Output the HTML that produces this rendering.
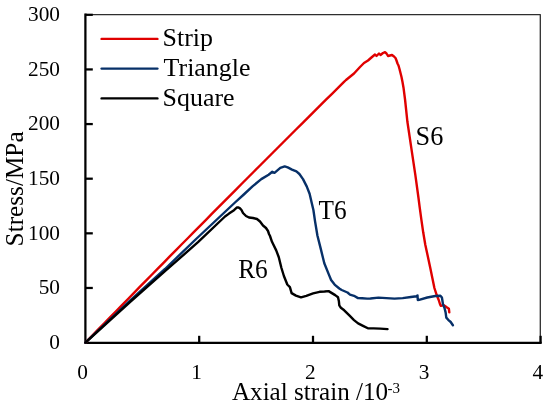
<!DOCTYPE html>
<html><head><meta charset="utf-8"><style>
html,body{margin:0;padding:0;background:#fff;width:550px;height:410px;overflow:hidden}
svg{display:block}
text{font-family:"Liberation Serif",serif;fill:#000}
</style></head><body>
<svg width="550" height="410" viewBox="0 0 550 410">
<rect width="550" height="410" fill="#fff"/>
<path d="M85.4 14.6H540.3V342.6" fill="none" stroke="#2e2e2e" stroke-width="1.3" stroke-linejoin="round"/>
<g stroke="#000" stroke-width="2.25" fill="none">
<path d="M85.4 13.5V342.9H541.7" stroke-linejoin="round"/>
<line x1="85.4" y1="287.97" x2="92.8" y2="287.97"/><line x1="85.4" y1="233.33" x2="92.8" y2="233.33"/><line x1="85.4" y1="178.70" x2="92.8" y2="178.70"/><line x1="85.4" y1="124.07" x2="92.8" y2="124.07"/><line x1="85.4" y1="69.43" x2="92.8" y2="69.43"/><line x1="85.4" y1="14.80" x2="92.8" y2="14.80"/><line x1="199.20" y1="342.9" x2="199.20" y2="335.8"/><line x1="313.00" y1="342.9" x2="313.00" y2="335.8"/><line x1="426.80" y1="342.9" x2="426.80" y2="335.8"/><line x1="540.60" y1="342.9" x2="540.60" y2="335.8"/>
</g>
<g fill="none" stroke-width="2.4" stroke-linejoin="round" stroke-linecap="round">
<polyline stroke="#e00000" points="85.4,342.6 86.0,342.1 92.0,335.9 98.0,329.7 104.0,323.6 110.0,317.4 116.0,311.3 122.0,305.1 128.0,299.0 134.0,292.9 140.0,286.7 146.0,280.6 152.0,274.5 158.0,268.4 164.0,262.3 170.0,256.2 176.0,250.1 182.0,244.0 188.0,238.0 194.0,231.9 200.0,225.8 206.0,219.8 212.0,213.7 218.0,207.7 224.0,201.6 230.0,195.6 236.0,189.6 242.0,183.5 248.0,177.5 254.0,171.5 260.0,165.5 266.0,159.5 272.0,153.5 278.0,147.5 284.0,141.5 290.0,135.5 296.0,129.5 302.0,123.6 308.0,117.6 314.0,111.6 320.0,105.7 326.0,99.7 332.0,93.8 338.0,87.9 344.0,81.9 346.0,80.0 354.0,73.5 360.0,67.0 364.0,63.0 368.0,60.5 372.0,57.0 375.0,54.5 376.5,56.0 379.0,53.5 380.5,55.0 383.0,53.0 385.0,52.2 386.5,53.5 388.0,56.0 390.0,55.5 392.0,55.0 394.0,56.5 395.5,58.0 396.5,60.5 397.5,63.5 398.5,65.5 399.5,69.0 400.5,73.0 401.5,77.0 402.5,82.0 403.6,88.3 405.1,100.0 407.4,121.8 411.4,148.6 415.4,175.4 418.5,198.0 419.7,207.4 421.4,219.9 423.2,232.3 425.3,244.8 428.0,257.2 430.5,269.0 432.4,278.2 434.4,288.0 436.8,295.3 438.7,300.0 440.1,304.4 440.9,305.9 443.8,305.1 446.7,307.3 448.9,308.8 449.3,312.4"/>
<polyline stroke="#073068" points="85.4,342.6 130.0,300.6 165.0,269.0 194.0,241.0 235.0,202.5 243.8,194.5 252.5,186.4 261.3,179.1 268.6,174.7 272.3,171.8 274.5,172.8 277.4,170.4 280.3,167.9 284.7,166.4 287.7,167.4 292.0,169.6 296.4,171.4 299.4,174.0 303.0,179.1 306.7,186.4 309.6,193.8 311.8,203.3 313.4,210.0 315.1,221.6 317.4,235.5 320.9,249.4 324.3,263.3 329.0,274.9 331.1,280.0 334.6,284.6 339.3,288.5 341.7,290.0 347.5,292.5 350.0,294.6 354.0,295.8 358.0,298.1 362.2,298.3 367.2,298.6 370.4,298.5 378.5,297.6 386.4,298.1 394.5,298.6 402.7,298.1 410.9,297.0 416.6,296.2 417.5,295.4 417.8,300.0 419.1,299.8 427.3,297.5 435.3,296.0 440.4,295.7 441.9,297.5 442.4,300.5 443.0,304.4 444.5,308.0 445.6,312.4 446.3,317.6 448.2,319.8 450.7,322.0 452.9,325.2"/>
<polyline stroke="#000" points="85.4,342.6 130.0,302.0 165.0,271.2 198.0,242.2 225.0,216.5 229.0,213.6 234.0,210.2 237.0,207.4 238.5,207.5 240.0,208.4 241.5,210.0 243.0,213.0 246.0,216.0 249.0,217.5 253.0,218.0 257.0,219.0 260.0,221.5 263.0,225.5 266.0,228.0 268.0,231.0 269.0,234.0 270.0,236.0 272.0,241.8 276.2,250.4 278.8,257.2 281.3,267.5 283.9,276.0 287.3,284.5 289.9,287.1 291.6,293.1 295.9,295.6 301.0,297.3 306.3,295.8 313.1,293.4 319.6,291.8 324.5,291.5 328.6,291.1 331.9,293.1 335.2,295.1 338.0,297.2 338.9,301.3 339.3,305.4 340.9,307.8 344.2,310.3 349.1,315.2 354.0,320.1 358.1,323.4 363.0,325.8 367.9,328.3 373.6,328.4 380.2,328.6 387.5,329.1"/>
<line x1="101.6" y1="38.9" x2="157.4" y2="38.9" stroke="#e00000"/>
<line x1="101.6" y1="68.6" x2="157.4" y2="68.6" stroke="#073068"/>
<line x1="101.6" y1="98.4" x2="157.4" y2="98.4" stroke="#000"/>
</g>
<g font-size="21.3"><text x="60" y="349.00" text-anchor="end">0</text><text x="60" y="294.37" text-anchor="end">50</text><text x="60" y="239.73" text-anchor="end">100</text><text x="60" y="185.10" text-anchor="end">150</text><text x="60" y="130.47" text-anchor="end">200</text><text x="60" y="75.83" text-anchor="end">250</text><text x="60" y="21.20" text-anchor="end">300</text><text x="82.70" y="379" text-anchor="middle">0</text><text x="196.50" y="379" text-anchor="middle">1</text><text x="310.30" y="379" text-anchor="middle">2</text><text x="424.10" y="379" text-anchor="middle">3</text><text x="537.90" y="379" text-anchor="middle">4</text></g>
<g font-size="25.5">
<text x="162.6" y="45.7" textLength="50.4" lengthAdjust="spacingAndGlyphs">Strip</text>
<text x="163.6" y="75.8" textLength="86.9" lengthAdjust="spacingAndGlyphs">Triangle</text>
<text x="162.6" y="105.5" textLength="72" lengthAdjust="spacingAndGlyphs">Square</text>
<text x="232" y="399.8" textLength="156" lengthAdjust="spacingAndGlyphs">Axial strain /10</text>
<text x="387.4" y="393" font-size="15">-3</text>
<text transform="translate(23 246.4) rotate(-90)" font-size="24.8" textLength="115" lengthAdjust="spacingAndGlyphs">Stress/MPa</text>
</g>
<g font-size="27.5">
<text x="415.6" y="144.5" textLength="27.7" lengthAdjust="spacingAndGlyphs">S6</text>
<text x="318.6" y="218.6" textLength="28.1" lengthAdjust="spacingAndGlyphs">T6</text>
<text x="238.2" y="277.7" textLength="29.6" lengthAdjust="spacingAndGlyphs">R6</text>
</g>
</svg>
</body></html>
